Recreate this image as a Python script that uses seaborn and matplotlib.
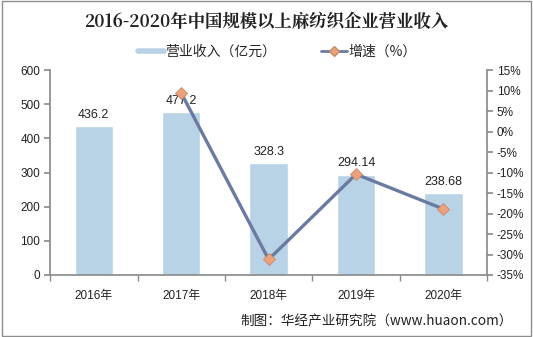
import matplotlib
matplotlib.use("Agg")
import matplotlib.pyplot as plt
import seaborn as sns
import numpy as np
import pandas as pd
from matplotlib.ticker import FixedLocator, FuncFormatter
from matplotlib.lines import Line2D

years = ["2016年", "2017年", "2018年", "2019年", "2020年"]
revenue = [436.2, 477.2, 328.3, 294.14, 238.68]
revenue_labels = ["436.2", "477.2", "328.3", "294.14", "238.68"]
growth = [np.nan, 9.4, -31.2, -10.4, -18.9]

sns.set_theme(style="white")
plt.rcParams['font.family'] = ['Noto Sans CJK SC', 'DejaVu Sans']

fig = plt.figure(figsize=(5.33, 3.37), dpi=100)
fig.patch.set_facecolor("white")
ax = fig.add_axes([0.094, 0.184, 0.82, 0.608])

df = pd.DataFrame({"year": years, "revenue": revenue, "growth": growth})
bar_color = "#b8d3e6"
sns.barplot(data=df, x="year", y="revenue", color=bar_color, width=0.44,
            saturation=1, ax=ax)
ax.set_ylim(0, 600)
ax.set_xlim(-0.5, 4.5)
ax.set_yticks(np.arange(0, 601, 100))
ax.set_xlabel("")
ax.set_ylabel("")
for i, (v, lab) in enumerate(zip(revenue, revenue_labels)):
    ax.text(i, v + 15, lab, ha="center", va="bottom", fontsize=9, color="#222222",
            family=["Liberation Sans", "DejaVu Sans"], zorder=5)

ax2 = ax.twinx()
line_color = "#6b7aa1"
sns.lineplot(x=np.arange(5), y=growth, ax=ax2, color=line_color, linewidth=2.4,
             marker="D", markersize=6.5, markerfacecolor="#e9a27c",
             markeredgecolor="#c98a66", markeredgewidth=0.6, legend=False)
ax2.set_ylim(-35, 15)
ax2.set_yticks(np.arange(-35, 16, 5))
ax2.yaxis.set_major_formatter(FuncFormatter(lambda v, p: f"{int(round(v))}%"))
ax2.set_xlim(-0.5, 4.5)

axis_col = "#8c8c8c"
for a in (ax, ax2):
    for s in a.spines.values():
        s.set_visible(False)
ax.spines["left"].set_visible(True)
ax.spines["left"].set_color(axis_col)
ax.spines["bottom"].set_visible(True)
ax.spines["bottom"].set_color(axis_col)
ax2.spines["right"].set_visible(True)
ax2.spines["right"].set_color(axis_col)

ax.tick_params(axis="y", which="both", left=True, length=4, color=axis_col, labelsize=8.5,
               labelcolor="#222222", pad=3)
ax2.tick_params(axis="y", right=True, length=4, color=axis_col, labelsize=8.5,
                labelcolor="#222222", pad=3)
ax.xaxis.set_minor_locator(FixedLocator([-0.5, 0.5, 1.5, 2.5, 3.5, 4.5]))
ax.tick_params(axis="x", which="major", bottom=False, labelsize=8.5, labelcolor="#222222", pad=5)
ax.tick_params(axis="x", which="minor", bottom=True, length=4, color=axis_col)
for lab in ax.get_yticklabels() + ax2.get_yticklabels():
    lab.set_family(["Liberation Sans", "DejaVu Sans"])
for lab in ax.get_xticklabels():
    lab.set_family(["Liberation Sans", "Noto Sans CJK SC"])

fig.text(0.5, 0.935, "2016-2020年中国规模以上麻纺织企业营业收入", ha="center", va="center",
         fontsize=12.5, fontweight="bold", color="#222222",
         family=["Noto Serif CJK SC", "Noto Sans CJK SC", "DejaVu Sans"])

h_bar = Line2D([0], [0], color=bar_color, linewidth=4)
h_line = Line2D([0], [0], color=line_color, linewidth=2, marker="D", markersize=5,
                markerfacecolor="#e9a27c", markeredgecolor="#c98a66")
fig.legend([h_bar, h_line], ["营业收入（亿元）", "增速（%）"], loc="center",
           bbox_to_anchor=(0.52, 0.846), ncol=2, frameon=False, fontsize=10,
           handlelength=1.9, columnspacing=3.2, handletextpad=0.1)

fig.text(0.962, 0.045, "制图：华经产业研究院（www.huaon.com）", ha="right", va="center",
         fontsize=9.8, color="#222222")

fig.add_artist(plt.Rectangle((0.003, 0.003), 0.994, 0.994, transform=fig.transFigure,
                             fill=False, edgecolor="#8c8c8c", linewidth=1))

fig.savefig("out.png", dpi=100, facecolor="white")
